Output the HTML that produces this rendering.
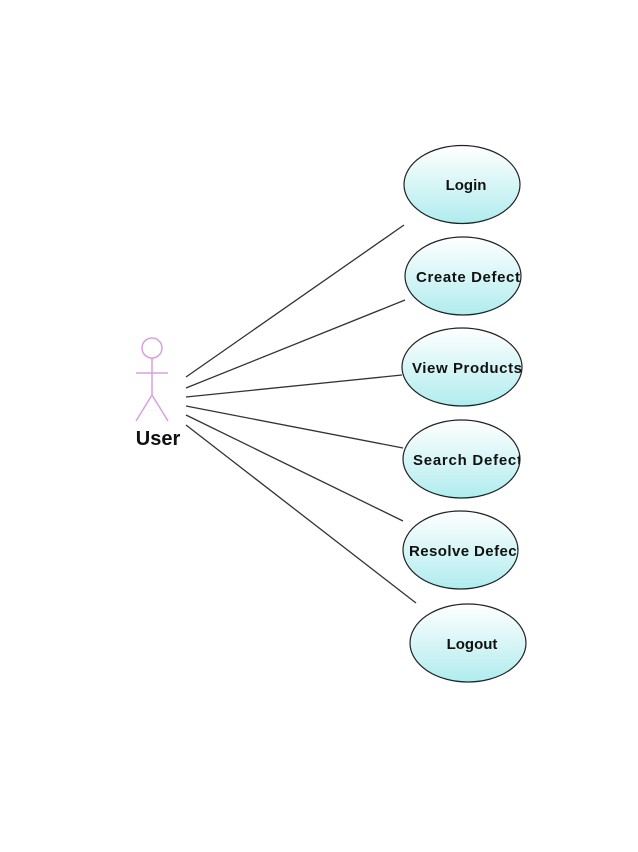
<!DOCTYPE html>
<html><head><style>html,body{margin:0;padding:0;background:#fff;}svg{display:block}</style></head>
<body>
<svg width="638" height="852" xmlns="http://www.w3.org/2000/svg">
<defs>
<linearGradient id="g" x1="0" y1="0" x2="0" y2="1">
<stop offset="0" stop-color="#ffffff"/><stop offset="1" stop-color="#b0ecee"/>
</linearGradient>
<clipPath id="c1"><ellipse cx="462" cy="184.5" rx="58" ry="39"/></clipPath>
<clipPath id="c2"><ellipse cx="463" cy="276" rx="58" ry="39"/></clipPath>
<clipPath id="c3"><ellipse cx="462" cy="367" rx="60" ry="39"/></clipPath>
<clipPath id="c4"><ellipse cx="461.5" cy="459" rx="58.5" ry="39"/></clipPath>
<clipPath id="c5"><ellipse cx="460.5" cy="550" rx="57.5" ry="39"/></clipPath>
<clipPath id="c6"><ellipse cx="468" cy="643" rx="58" ry="39"/></clipPath>
</defs>
<g stroke="#333" stroke-width="1.3">
<line x1="186" y1="377" x2="404" y2="225"/>
<line x1="186" y1="388" x2="405" y2="300"/>
<line x1="186" y1="397" x2="402" y2="375"/>
<line x1="186" y1="406" x2="403" y2="448"/>
<line x1="186" y1="415" x2="403" y2="521"/>
<line x1="186" y1="425" x2="416" y2="603"/>
</g>
<g stroke="#d9a0e0" stroke-width="1.5" fill="none">
<circle cx="152" cy="348" r="10"/>
<line x1="152" y1="358" x2="152" y2="395"/>
<line x1="136" y1="373" x2="168" y2="373"/>
<line x1="152" y1="395" x2="136" y2="421"/>
<line x1="152" y1="395" x2="168" y2="421"/>
</g>
<text x="158" y="445" font-family="Liberation Sans, sans-serif" font-size="20" font-weight="bold" text-anchor="middle" fill="#111">User</text>
<g fill="url(#g)" stroke="#222" stroke-width="1.2">
<ellipse cx="462" cy="184.5" rx="58" ry="39"/>
<ellipse cx="463" cy="276" rx="58" ry="39"/>
<ellipse cx="462" cy="367" rx="60" ry="39"/>
<ellipse cx="461.5" cy="459" rx="58.5" ry="39"/>
<ellipse cx="460.5" cy="550" rx="57.5" ry="39"/>
<ellipse cx="468" cy="643" rx="58" ry="39"/>
</g>
<g font-family="Liberation Sans, sans-serif" font-size="15" font-weight="bold" fill="#111">
<text x="466" y="190" text-anchor="middle" clip-path="url(#c1)">Login</text>
<text x="416" y="282" textLength="104" clip-path="url(#c2)">Create Defect</text>
<text x="412" y="373" textLength="110" clip-path="url(#c3)">View Products</text>
<text x="413" y="465" textLength="109" clip-path="url(#c4)">Search Defect</text>
<text x="409" y="556" textLength="113" clip-path="url(#c5)">Resolve Defect</text>
<text x="472" y="649" text-anchor="middle" clip-path="url(#c6)">Logout</text>
</g>
</svg>
</body></html>
